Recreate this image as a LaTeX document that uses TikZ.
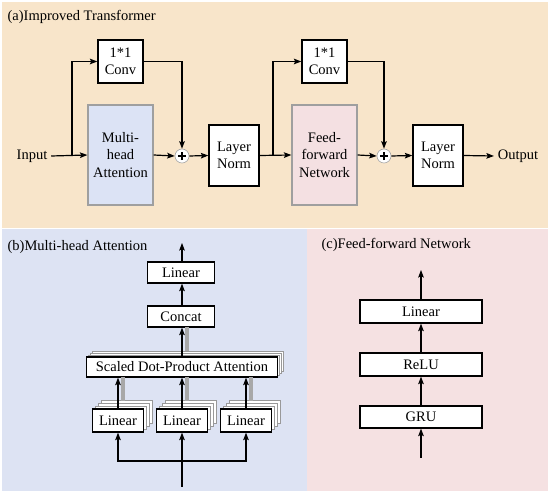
\documentclass[tikz,border=0pt]{standalone}
\usepackage{fontspec}
\setmainfont{Liberation Serif}
\usetikzlibrary{arrows.meta,shadows}
\definecolor{bgA}{HTML}{F8E5CA}
\definecolor{bgB}{HTML}{DDE3F3}
\definecolor{bgC}{HTML}{F5E1E2}
\definecolor{mhaF}{HTML}{DCE3F5}
\definecolor{ffnF}{HTML}{F4E0E2}
\definecolor{bandC}{HTML}{A8A8A8}
\begin{document}
\begin{tikzpicture}[x=1pt,y=-1pt,
  font=\fontsize{14.5}{17.5}\selectfont,
  line width=1.2pt,
  arr/.style={-{Stealth[length=7.5pt,width=5.6pt,inset=1.4pt]}},
  box/.style={draw=black, fill=white, line width=1.3pt, inner sep=0pt, align=center},
  softbox/.style={draw=gray!75, line width=1.2pt, inner sep=0pt, align=center, minimum width=65pt, minimum height=100pt},
  shc/.style={copy shadow={shadow xshift=#1, shadow yshift=#1, draw=gray!80, fill=white, line width=0.7pt}},
  lstack/.style={box, shc=9pt, shc=6pt, shc=3pt, minimum width=51pt, minimum height=23pt},
  sstack/.style={box, shc=6pt, shc=4pt, shc=2pt, minimum width=191pt, minimum height=20pt},
  plusnode/.style={circle, draw=gray!70, fill=white, line width=0.6pt, minimum size=14pt, inner sep=0pt},
  ttl/.style={anchor=west, inner sep=0pt},
  band/.style={fill=bandC, draw=none}
]
\useasboundingbox (0,0) rectangle (550,494);
% panels
\fill[white] (0,0) rectangle (550,494);
\fill[bgA] (2,2) rectangle (548,228);
\fill[bgB] (2,229) rectangle (307,491);
\fill[bgC] (307,229) rectangle (548,491);

% ---------------- (a)
\node[ttl] (ta) at (7,17) {(a)Improved Transformer};
\node (in) at (32,156) {Input};
\node[box, minimum width=45pt, minimum height=43pt] (conv1) at (120.5,61.5) {1*1\\Conv};
\node[softbox, fill=mhaF] (mha) at (120.5,155) {Multi-\\head\\Attention};
\node[plusnode] (p1) at (182,156) {};
\node[box, minimum width=50pt, minimum height=61pt] (ln1) at (234,155.5) {Layer\\Norm};
\node[box, minimum width=45pt, minimum height=43pt] (conv2) at (324.5,61.5) {1*1\\Conv};
\node[softbox, fill=ffnF] (ffn) at (324.5,155) {Feed-\\forward\\Network};
\node[plusnode] (p2) at (384,156) {};
\node[box, minimum width=50pt, minimum height=61pt] (ln2) at (438,155.5) {Layer\\Norm};
\node (out) at (518,156) {Output};
\coordinate (b1) at (72,156);
\coordinate (b2) at (273,156);

\foreach \p in {p1,p2}{
  \draw[line width=2pt] ([xshift=-4.2pt]\p.center) -- ([xshift=4.2pt]\p.center);
  \draw[line width=2pt] ([yshift=-4.2pt]\p.center) -- ([yshift=4.2pt]\p.center);
}

\draw[arr] (in.east) -- (mha.west);
\draw[arr] (b1) |- (conv1.west);
\draw[arr] (conv1.east) -| (p1.north);
\draw[arr] (mha.east) -- (p1.west);
\draw[arr] (p1.east) -- (ln1.west);
\draw[arr] (ln1.east) -- (ffn.west);
\draw[arr] (b2) |- (conv2.west);
\draw[arr] (conv2.east) -| (p2.north);
\draw[arr] (ffn.east) -- (p2.west);
\draw[arr] (p2.east) -- (ln2.west);
\draw[arr] (ln2.east) -- (out.west);

% ---------------- (b)
\node[ttl] (tb) at (7,247) {(b)Multi-head Attention};
\node[box, minimum width=67pt, minimum height=21pt] (lint) at (181,272.5) {Linear};
\node[box, minimum width=67pt, minimum height=21pt] (cat) at (181,316.5) {Concat};
\node[sstack] (sdpa) at (182,367) {Scaled Dot-Product Attention};
\node[lstack] (l1) at (118,420.5) {Linear};
\node[lstack] (l2) at (182,420.5) {Linear};
\node[lstack] (l3) at (246,420.5) {Linear};
\coordinate (topb) at (182,243);
\coordinate (botb) at (182,487);
\coordinate (hb) at (182,461);

% gray bands (stacked connections)
\fill[band] (184.5,327) rectangle (188.5,351);
\fill[band] (120.5,377) rectangle (124.5,401);
\fill[band] (184.5,377) rectangle (188.5,401);
\fill[band] (248.5,377) rectangle (252.5,401);

\draw[arr] (lint.north -| topb) -- (topb);
\draw[arr] (cat.north -| topb) -- (lint.south -| topb);
\draw[arr] (sdpa.north) -- (cat.south -| sdpa.north);
\draw[arr] (l1.north) -- (l1.north |- sdpa.south);
\draw[arr] (l2.north) -- (l2.north |- sdpa.south);
\draw[arr] (l3.north) -- (l3.north |- sdpa.south);
\draw[arr] (botb) -- (l2.south);
\draw[arr] (hb) -| (l1.south);
\draw[arr] (hb) -| (l3.south);

% ---------------- (c)
\node[ttl] (tc) at (321,245) {(c)Feed-forward Network};
\node[box, minimum width=122pt, minimum height=23pt] (fl) at (421,311.5) {Linear};
\node[box, minimum width=122pt, minimum height=23pt] (fr) at (421,364.5) {ReLU};
\node[box, minimum width=122pt, minimum height=22pt] (fg) at (421,417) {GRU};
\coordinate (cin) at (421,458);
\coordinate (cout) at (421,270);
\draw[arr] (cin) -- (fg.south);
\draw[arr] (fg.north) -- (fr.south);
\draw[arr] (fr.north) -- (fl.south);
\draw[arr] (fl.north) -- (cout);
\end{tikzpicture}
\end{document}
